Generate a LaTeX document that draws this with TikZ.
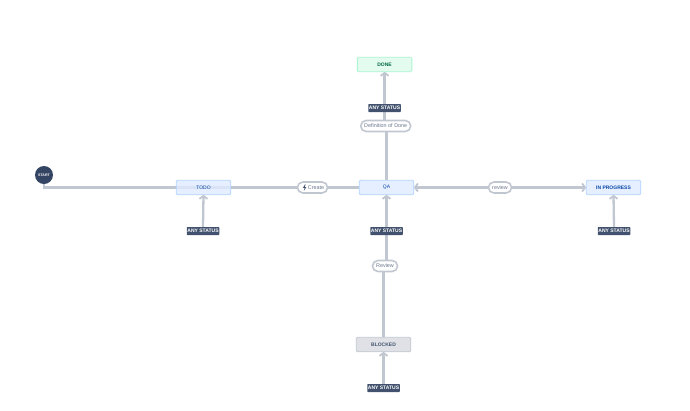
\documentclass[tikz,border=0pt]{standalone}
\usepackage{fontspec}
\setmainfont{Liberation Sans}
\usetikzlibrary{arrows.meta,backgrounds}
\definecolor{linegrey}{HTML}{C1C7D0}
\definecolor{navy}{HTML}{42526E}
\definecolor{startnavy}{HTML}{344563}
\definecolor{bluefill}{HTML}{DEEBFF}
\definecolor{blueline}{HTML}{B3D4FF}
\definecolor{bluetext}{HTML}{0747A6}
\definecolor{greenfill}{HTML}{E3FCEF}
\definecolor{greenline}{HTML}{ABF5D1}
\definecolor{greentext}{HTML}{006644}
\definecolor{greyfill}{HTML}{DFE1E6}
\definecolor{pilltext}{HTML}{6B778C}
\tikzset{
  base/.style={inner sep=0pt,outer sep=0pt,font=\fontsize{5}{6}\selectfont\bfseries},
  statusbox/.style={base,draw,line width=.8pt,rounded corners=1.2pt,minimum width=54.5pt,minimum height=14.5pt},
  bluebox/.style={statusbox,fill=bluefill,fill opacity=.8,text opacity=1,draw=blueline,text=bluetext},
  greenbox/.style={statusbox,fill=greenfill,draw=greenline,text=greentext},
  greybox/.style={statusbox,fill=greyfill,draw=linegrey,text=navy},
  anybox/.style={base,fill=navy,text=white,rounded corners=.6pt,minimum width=32.5pt,minimum height=8pt},
  startdot/.style={base,circle,fill=startnavy,text=white,minimum size=18pt,font=\fontsize{3.6}{4}\selectfont\bfseries},
  pill/.style={inner sep=0pt,outer sep=0pt,draw=linegrey,fill=white,line width=1.6pt,rounded corners=5.4pt,minimum height=11pt,text=pilltext,font=\fontsize{5.4}{6}\selectfont},
  link/.style={draw=linegrey,line width=2.3pt},
  barb/.tip={Straight Barb[length=3pt,width=8pt,line width=1.8pt]},
  tip/.style={-barb},
}
\begin{document}
\begin{tikzpicture}[x=1pt,y=-1pt]
\useasboundingbox (0,0) rectangle (690,410);
\node[greenbox] (done) at (384.6,64.5) {DONE};
\node[startdot] (start) at (44,175) {START};
\node[bluebox,font=\fontsize{5}{6}\selectfont] (todo) at (203.5,187.5) {TODO};
\node[bluebox,font=\fontsize{5}{6}\selectfont] (qa) at (386.5,187.5) {QA};
\node[bluebox] (prog) at (613.5,187.5) {IN PROGRESS};
\node[greybox] (blocked) at (383.5,344.5) {BLOCKED};
\node[anybox] (anydone) at (384.5,108) {ANY STATUS};
\node[anybox] (anytodo) at (203,231) {ANY STATUS};
\node[anybox] (anyqa) at (386.5,231) {ANY STATUS};
\node[anybox] (anyprog) at (614,231) {ANY STATUS};
\node[anybox] (anyblocked) at (383.5,388) {ANY STATUS};
\node[pill,minimum width=50pt] (dod) at (385.7,126) {Definition of Done};
\node[pill,minimum width=30pt] (create) at (312.5,187.5) {\hspace{7pt}Create};
\node[pill,minimum width=23pt] (rev) at (500,187.5) {review};
\node[pill,minimum width=25pt] (review) at (385,266) {Review};
\fill[navy] ([xshift=7.6pt,yshift=3.2pt]create.west) -- ++(-2.2,3.6) -- ++(1.7,0) -- ++(-.8,2.9) -- ++(2.6,-3.8) -- ++(-1.7,0) -- ++(.9,-2.7) -- cycle;
\begin{scope}[on background layer]
  \draw[link] (start.south) |- (create.center) -- (qa.west);
  \draw[link,tip] (qa.north) |- (dod.center) -| (done.south);
  \draw[link,tip] (blocked.north) |- (review.center) -| (qa.south);
  \draw[link,barb-barb] (qa.east) -- (prog.west);
  \draw[link,tip] (anytodo.north) -- (todo.south);
  \draw[link,tip] (anyprog.north) -- (prog.south);
  \draw[link,tip] (anyblocked.north) -- (blocked.south);
\end{scope}
\end{tikzpicture}
\end{document}
